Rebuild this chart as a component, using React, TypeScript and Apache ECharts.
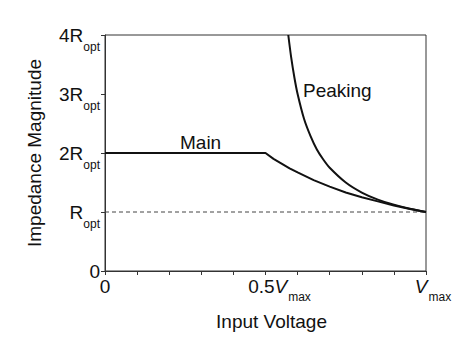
import React, { useEffect, useRef } from "react";
import * as echarts from "echarts";

const mainX = [0, 0.5, 0.525, 0.55, 0.575, 0.6, 0.65, 0.7, 0.75, 0.8, 0.85, 0.9, 0.95, 1.0];
const mainY = [2, 2, 1.9, 1.82, 1.74, 1.67, 1.54, 1.43, 1.33, 1.25, 1.18, 1.11, 1.05, 1.0];
const peakX = [0.571, 0.58, 0.59, 0.6, 0.62, 0.64, 0.66, 0.68, 0.7, 0.75, 0.8, 0.85, 0.9, 0.95, 1.0];
const peakY = [4, 3.62, 3.28, 3.0, 2.58, 2.29, 2.06, 1.89, 1.75, 1.5, 1.33, 1.21, 1.125, 1.056, 1.0];
const refX = [0, 1];
const refY = [1, 1];
const yTickLabels = ["0", "R", "2R", "3R", "4R"];

const FONT = "Liberation Sans, Arial, sans-serif";

export default function App() {
  const ref = useRef<HTMLDivElement>(null);
  useEffect(() => {
    if (!ref.current) return;
    const chart = echarts.init(ref.current, undefined, { renderer: "svg" });
    const zip = (xs: number[], ys: number[]) => xs.map((x, i) => [x, ys[i]]);
    chart.setOption({
      animation: false,
      backgroundColor: "#fff",
      textStyle: { fontFamily: FONT },
      grid: {
        left: 105,
        top: 35,
        right: 48,
        bottom: 90,
        show: true,
        borderColor: "#333",
        borderWidth: 1,
        backgroundColor: "transparent",
      },
      xAxis: {
        type: "value",
        min: 0,
        max: 1,
        interval: 0.1,
        name: "Input Voltage",
        nameLocation: "middle",
        nameGap: 41,
        nameTextStyle: { fontSize: 19, color: "#111", fontFamily: FONT, padding: [0, 0, 0, 12] },
        axisLine: { show: true, lineStyle: { color: "#333", width: 1 } },
        axisTick: { show: true, length: 4, lineStyle: { color: "#333" } },
        splitLine: { show: false },
        axisLabel: {
          margin: 6,
          color: "#111",
          fontFamily: FONT,
          fontSize: 19,
          formatter: (v: number) => {
            if (Math.abs(v) < 1e-9) return "{n|0}";
            if (Math.abs(v - 0.5) < 1e-9) return "{h|0.5}{v|V}{s|max}";
            if (Math.abs(v - 1) < 1e-9) return "{w|V}{s|max}";
            return "";
          },
          rich: {
            n: { fontSize: 19, color: "#111", fontFamily: FONT, lineHeight: 22, verticalAlign: "top" },
            h: { fontSize: 19, color: "#111", fontFamily: FONT, lineHeight: 22, verticalAlign: "top", padding: [0, 0, 0, 28] },
            v: { fontSize: 19, color: "#111", fontFamily: FONT, fontStyle: "italic", lineHeight: 22, verticalAlign: "top" },
            w: { fontSize: 19, color: "#111", fontFamily: FONT, fontStyle: "italic", lineHeight: 22, verticalAlign: "top", padding: [0, 0, 0, 14] },
            s: { fontSize: 12, color: "#111", fontFamily: FONT, lineHeight: 14, padding: [14, 0, 0, 1], verticalAlign: "top" },
          },
        },
      },
      yAxis: {
        type: "value",
        min: 0,
        max: 4,
        interval: 1,
        name: "Impedance Magnitude",
        nameLocation: "middle",
        nameGap: 61,
        nameTextStyle: { fontSize: 19, color: "#111", fontFamily: FONT },
        axisLine: { show: true, lineStyle: { color: "#333", width: 1 } },
        axisTick: { show: true, length: 4, lineStyle: { color: "#333" } },
        splitLine: { show: false },
        axisLabel: {
          margin: 5,
          color: "#111",
          fontFamily: FONT,
          formatter: (v: number) => {
            const t = yTickLabels[Math.round(v)];
            if (Math.round(v) === 0) return "{z|0}";
            return "{n|" + t + "}{s|opt}";
          },
          rich: {
            z: { fontSize: 19, color: "#111", fontFamily: FONT, lineHeight: 22 },
            n: { fontSize: 19, color: "#111", fontFamily: FONT, lineHeight: 22, padding: [2, 0, 0, 0], verticalAlign: "top" },
            s: { fontSize: 12, color: "#111", fontFamily: FONT, lineHeight: 14, padding: [17, 0, 0, 0], verticalAlign: "top" },
          },
        },
      },
      series: [
        {
          type: "line",
          data: zip(refX, refY),
          symbol: "none",
          lineStyle: { color: "#444", width: 1, type: [4, 3] },
          silent: true,
        },
        {
          type: "line",
          data: zip(mainX, mainY),
          symbol: "none",
          lineStyle: { color: "#111", width: 2 },
          silent: true,
        },
        {
          type: "line",
          data: zip(peakX, peakY),
          symbol: "none",
          smooth: 0.3,
          lineStyle: { color: "#111", width: 2 },
          silent: true,
        },
      ],
      graphic: [
        {
          type: "text",
          left: 180,
          top: 133,
          style: { text: "Main", font: "19px " + FONT, fill: "#111" },
        },
        {
          type: "text",
          left: 303,
          top: 81,
          style: { text: "Peaking", font: "19px " + FONT, fill: "#111" },
        },
      ],
    });
    return () => chart.dispose();
  }, []);
  return (
    <div
      ref={ref}
      style={{ position: "absolute", left: 0, top: 0, width: 474, height: 361 }}
    />
  );
}
